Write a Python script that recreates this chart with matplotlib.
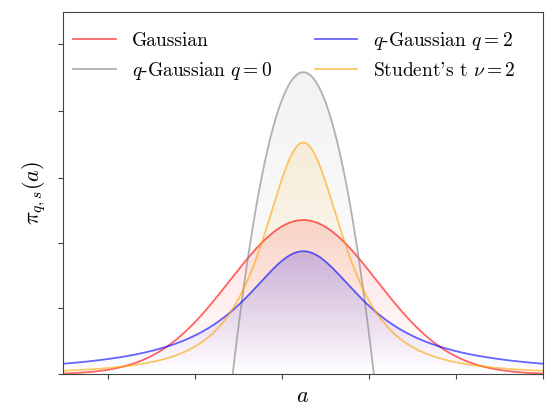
import numpy as np
import matplotlib.pyplot as plt
from matplotlib.colors import to_rgb
from matplotlib.patches import Polygon

plt.rcParams['font.family'] = 'serif'
plt.rcParams['font.serif'] = ['cmr10', 'DejaVu Serif']
plt.rcParams['mathtext.fontset'] = 'cm'
plt.rcParams['axes.unicode_minus'] = False

# parameters (x in units of the gaussian sigma)
labels = ['Gaussian', '$q$-Gaussian $q=0$', '$q$-Gaussian $q=2$', "Student's t $\\nu=2$"]
colors = ['red', 'gray', 'blue', 'orange']
gauss_sigma = 1.0
q0_halfwidth = 0.96
q2_gamma = 1.0
t_nu = 2
t_scale = 0.59

x_lim = [-3.265, 3.257]
y_lim = [0, 0.936]
x_ticks = [-2.653, -1.471, -0.290, 0.892, 2.074, 3.257]
y_ticks = [0, 0.1706, 0.3403, 0.5083, 0.6808, 0.8532]


def gaussian(a, s):
    return np.exp(-a**2 / (2 * s**2)) / (np.sqrt(2 * np.pi) * s)


def qgauss0(a, w):
    p = 0.75 / w * (1 - (a / w)**2)
    return np.where(p > 0, p, np.nan)


def cauchy(a, g):
    return 1 / (np.pi * g * (1 + (a / g)**2))


def student2(a, s):
    return 1 / (2 * np.sqrt(2) * s) * (1 + (a / s)**2 / t_nu)**(-(t_nu + 1) / 2)


def gradient_fill(ax, x, y, color, alpha_top):
    ok = ~np.isnan(y)
    x, y = x[ok], y[ok]
    z = np.zeros((200, 1, 4))
    z[:, :, :3] = to_rgb(color)
    z[:, :, 3] = np.linspace(0, alpha_top, 200)[:, None]
    im = ax.imshow(z, aspect='auto', origin='lower', zorder=1,
                   extent=[x.min(), x.max(), 0, y.max()])
    poly = Polygon(np.column_stack([np.r_[x[0], x, x[-1]], np.r_[0, y, 0]]),
                   closed=True, facecolor='none', edgecolor='none')
    ax.add_patch(poly)
    im.set_clip_path(poly)


a = np.linspace(x_lim[0], x_lim[1], 3001)
curves = [gaussian(a, gauss_sigma), qgauss0(a, q0_halfwidth),
          cauchy(a, q2_gamma), student2(a, t_scale)]
fill_alpha = [0.14, 0.1, 0.2, 0.12]

fig = plt.figure(figsize=(5.58, 4.18), dpi=100)
ax = fig.add_axes([0.113, 0.1045, 0.86, 0.866])

for y, c, lab, fa in zip(curves, colors, labels, fill_alpha):
    gradient_fill(ax, a, y, c, fa)
    ax.plot(a, y, color=c, alpha=0.6, lw=1.3, label=lab, zorder=2)

ax.set_xlim(x_lim)
ax.set_ylim(y_lim)
ax.set_xticks(x_ticks)
ax.set_yticks(y_ticks)
ax.set_xticklabels([])
ax.set_yticklabels([])
for sp in ax.spines.values():
    sp.set_color('#444444')
ax.tick_params(color='#444444', length=3.5)
ax.set_xlabel('$a$', fontsize=16, labelpad=2)
ax.set_ylabel('$\\pi_{q,s}(a)$', fontsize=16, labelpad=4)

ax.legend(ncol=2, frameon=False, loc='upper left', bbox_to_anchor=(-0.015, 1.0),
          fontsize=14, handlelength=2.2, handletextpad=0.8, columnspacing=2.2)

fig.savefig('out.png', dpi=100)
